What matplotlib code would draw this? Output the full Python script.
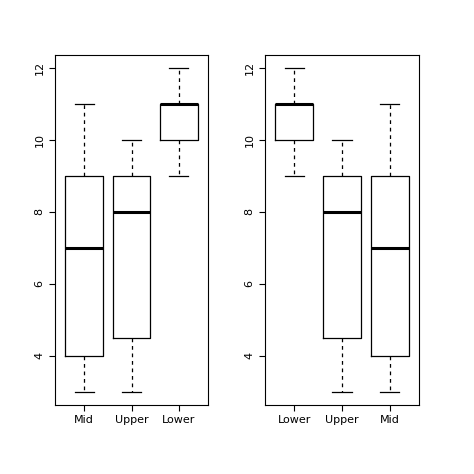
import matplotlib
matplotlib.use("Agg")
import matplotlib.pyplot as plt

left_labels = ["Mid", "Upper", "Lower"]
left_wlo = [3, 3, 9]
left_q1 = [4, 4.5, 10]
left_med = [7, 8, 11]
left_q3 = [9, 9, 11]
left_whi = [11, 10, 12]

right_labels = ["Lower", "Upper", "Mid"]
right_wlo = [9, 3, 3]
right_q1 = [10, 4.5, 4]
right_med = [11, 8, 7]
right_q3 = [11, 9, 9]
right_whi = [12, 10, 11]

yticks = [4, 6, 8, 10, 12]

fig = plt.figure(figsize=(4.74, 4.74), dpi=100)
axes = [fig.add_axes([0.116, 0.146, 0.323, 0.738]),
        fig.add_axes([0.559, 0.146, 0.325, 0.738])]

def draw(ax, labels, wlo, q1, med, q3, whi):
    stats = [dict(label=l, whislo=a, q1=b, med=c, q3=d, whishi=e, fliers=[])
             for l, a, b, c, d, e in zip(labels, wlo, q1, med, q3, whi)]
    ax.bxp(stats, positions=range(1, len(stats) + 1), widths=0.8,
           boxprops=dict(color="black", linewidth=0.9),
           whiskerprops=dict(color="black", linewidth=0.9, linestyle=(0, (3, 3))),
           capprops=dict(color="black", linewidth=0.9),
           medianprops=dict(color="black", linewidth=2.2),
           capwidths=0.4)
    ax.set_xlim(0.38, 3.62)
    ax.set_ylim(2.64, 12.36)
    ax.set_yticks(yticks)
    ax.set_yticklabels([str(t) for t in yticks], rotation=90, va="center")
    ax.set_xticks(range(1, 4))
    ax.set_xticklabels(labels)
    ax.tick_params(labelsize=8, length=4, width=0.8)
    for s in ax.spines.values():
        s.set_linewidth(0.8)

draw(axes[0], left_labels, left_wlo, left_q1, left_med, left_q3, left_whi)
draw(axes[1], right_labels, right_wlo, right_q1, right_med, right_q3, right_whi)

fig.savefig("out.png", dpi=100)
